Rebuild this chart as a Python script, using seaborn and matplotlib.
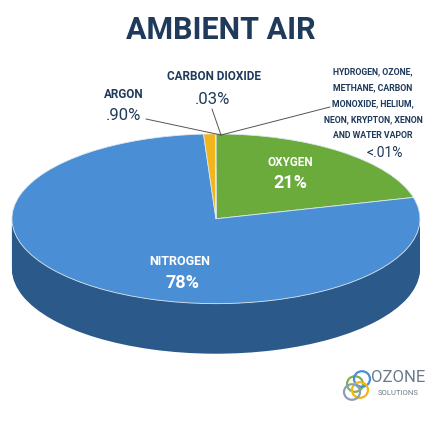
import matplotlib
matplotlib.use("Agg")
import matplotlib.pyplot as plt
import seaborn as sns
import numpy as np

sns.set_style("white")
plt.rcParams['font.family'] = ['Roboto', 'DejaVu Sans']

gases = ['OXYGEN', 'NITROGEN', 'ARGON', 'CARBON DIOXIDE']
shares = [20.95, 78.08, 0.93, 0.04]
top_colors = ['#6aab3b', '#4a8fd6', '#f2b51c', '#e8d07a']
side_colors = ['#3f6f22', '#2b5a8a', '#b07f10', '#b09a50']
navy = '#1f3a5a'

fig = plt.figure(figsize=(4.43, 4.31), dpi=100)
ax = fig.add_axes([0.027, 0.177, 0.921, 0.51])

# side of the cylinder: stacked copies of the pie shifted down
depth = 0.59
for d in np.linspace(depth, 0.01, 40):
    ax.pie(shares, colors=side_colors, startangle=90, counterclock=False,
           center=(0, -d), radius=1, wedgeprops=dict(linewidth=0))
ax.pie(shares, colors=top_colors, startangle=90, counterclock=False,
       center=(0, 0), radius=1, wedgeprops=dict(linewidth=0.6, edgecolor='#dfe8f0'))
ax.set_aspect('auto')
ax.set_xlim(-1, 1)
ax.set_ylim(-1 - depth, 1)
ax.axis('off')

W, H = 443, 431
def t(x, y, s, **kw):
    fig.text(x / W, 1 - y / H, s, ha='center', va='center', **kw)

t(221, 30, 'AMBIENT AIR', color=navy, fontsize=22, fontweight='bold')
t(180, 262, 'NITROGEN', color='white', fontsize=9, fontweight='bold')
t(182, 283, '78%', color='white', fontsize=13, fontweight='bold')
t(290, 162, 'OXYGEN', color='white', fontsize=8.5, fontweight='bold')
t(290, 183, '21%', color='white', fontsize=13, fontweight='bold')
t(124, 95, 'ARGON', color=navy, fontsize=8.5, fontweight='bold')
t(124, 115, '.90%', color=navy, fontsize=12)
t(214, 77, 'CARBON DIOXIDE', color=navy, fontsize=8.5, fontweight='bold')
t(213, 99, '.03%', color=navy, fontsize=12)
others = ['HYDROGEN, OZONE,', 'METHANE, CARBON', 'MONOXIDE, HELIUM,',
          'NEON, KRYPTON, XENON', 'AND WATER VAPOR']
for i, line in enumerate(others):
    t(373, 72 + i * 16, line, color=navy, fontsize=6.3, fontweight='bold')
t(385, 153, '<.01%', color=navy, fontsize=10)

for x0, y0 in [(146, 120), (212, 110), (330, 108)]:
    fig.add_artist(plt.Line2D([x0 / W, 221 / W], [1 - y0 / H, 1 - 136 / H],
                              color='#555555', linewidth=0.7))

# logo
for dx, dy, c in [(0, 0, '#7fb24a'), (7, -5, '#4a8fd6'), (5, 6, '#f2b51c'), (-3, 8, '#8aa0b8')]:
    fig.add_artist(plt.Circle(((355 + dx) / W, 1 - (385 + dy) / H), 8 / W,
                              fill=False, color=c, linewidth=1.6,
                              transform=fig.transFigure))
t(398, 378, 'OZONE', color='#6a7a8a', fontsize=12)
t(398, 393, 'SOLUTIONS', color='#6a7a8a', fontsize=5.5)

fig.savefig('out.png', dpi=100)
